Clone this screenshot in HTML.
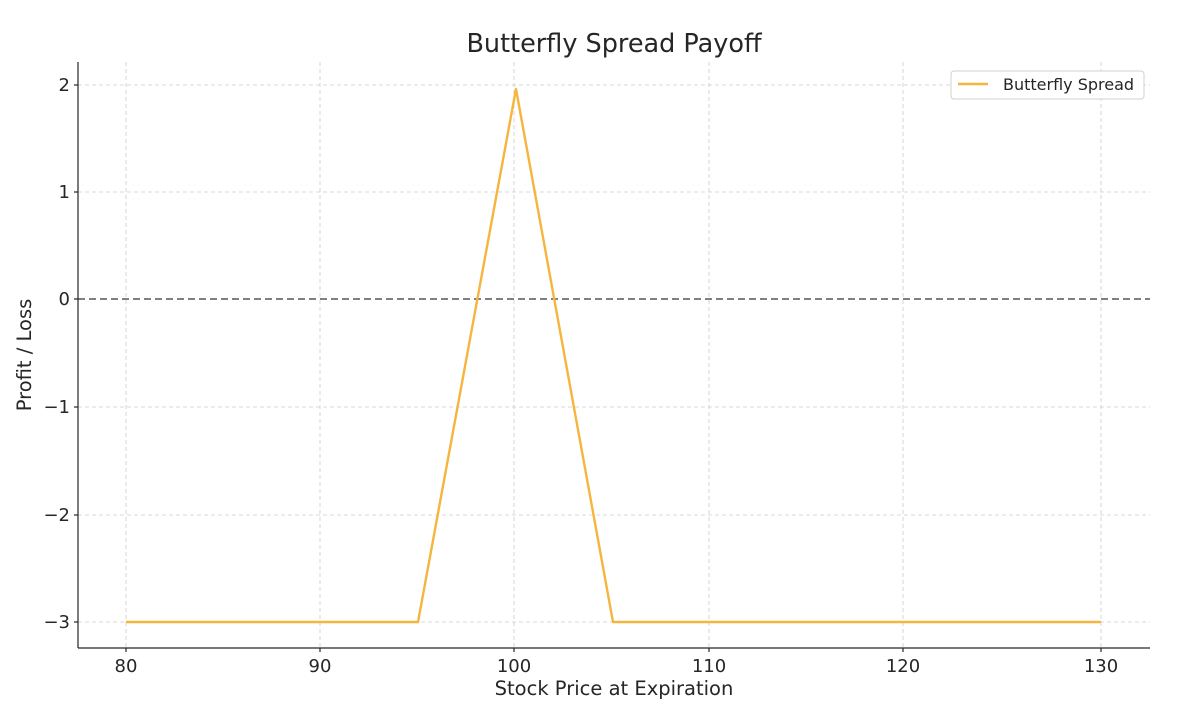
<!DOCTYPE html>
<html><head><meta charset="utf-8"><style>body{margin:0;background:#fff}svg{display:block}text{font-family:"DejaVu Sans","Liberation Sans",sans-serif;fill:#262626}</style></head>
<body>
<svg width="1200" height="726" viewBox="0 0 1200 726">
<rect width="1200" height="726" fill="#fff"/>
<g stroke="#cccccc" stroke-width="0.8" stroke-dasharray="4,3">
<line x1="126" y1="62" x2="126" y2="648"/><line x1="320" y1="62" x2="320" y2="648"/><line x1="514" y1="62" x2="514" y2="648"/><line x1="709" y1="62" x2="709" y2="648"/><line x1="903" y1="62" x2="903" y2="648"/><line x1="1101" y1="62" x2="1101" y2="648"/>
<line x1="78" y1="85" x2="1150" y2="85"/><line x1="78" y1="192" x2="1150" y2="192"/><line x1="78" y1="407" x2="1150" y2="407"/><line x1="78" y1="515" x2="1150" y2="515"/><line x1="78" y1="622" x2="1150" y2="622"/>
</g>
<line x1="78" y1="299" x2="1150" y2="299" stroke="#808080" stroke-width="2" stroke-dasharray="7,4"/>
<polyline points="126,622 418,622 516,89 613,622 1101,622" fill="none" stroke="#f5b53f" stroke-width="2.4" stroke-linejoin="round"/>
<g stroke="#262626" stroke-width="1.2"><line x1="78" y1="62" x2="78" y2="648"/><line x1="78" y1="648" x2="1150" y2="648"/>
<line x1="126" y1="648" x2="126" y2="652"/><line x1="320" y1="648" x2="320" y2="652"/><line x1="514" y1="648" x2="514" y2="652"/><line x1="709" y1="648" x2="709" y2="652"/><line x1="903" y1="648" x2="903" y2="652"/><line x1="1101" y1="648" x2="1101" y2="652"/>
<line x1="74" y1="85" x2="78" y2="85"/><line x1="74" y1="192" x2="78" y2="192"/><line x1="74" y1="299" x2="78" y2="299"/><line x1="74" y1="407" x2="78" y2="407"/><line x1="74" y1="515" x2="78" y2="515"/><line x1="74" y1="622" x2="78" y2="622"/></g>
<g font-size="18" text-anchor="middle"><text x="126" y="672">80</text><text x="320" y="672">90</text><text x="514" y="672">100</text><text x="709" y="672">110</text><text x="903" y="672">120</text><text x="1101" y="672">130</text></g>
<g font-size="18" text-anchor="end"><text x="70" y="91">2</text><text x="70" y="198">1</text><text x="70" y="305">0</text><text x="70" y="413">−1</text><text x="70" y="521">−2</text><text x="70" y="628">−3</text></g>
<text x="614" y="695" font-size="19.5" text-anchor="middle">Stock Price at Expiration</text>
<text transform="translate(31,355) rotate(-90)" font-size="19.5" text-anchor="middle">Profit / Loss</text>
<text x="614" y="52" font-size="25.5" text-anchor="middle">Butterfly Spread Payoff</text>
<rect x="951" y="71" width="193" height="28" rx="3" fill="#fff" stroke="#d0d0d0"/>
<line x1="958" y1="84" x2="988" y2="84" stroke="#f5b53f" stroke-width="2.4"/>
<text x="1003" y="90" font-size="16">Butterfly Spread</text>
</svg>
</body></html>
